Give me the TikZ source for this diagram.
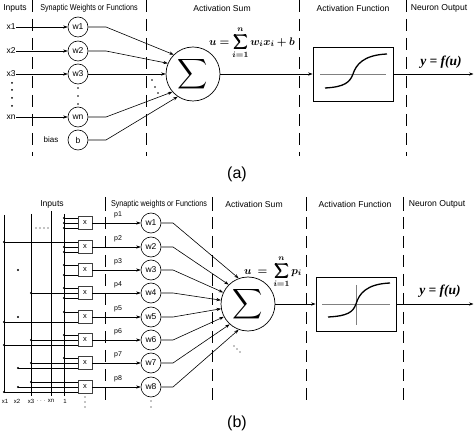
\documentclass[tikz,border=0pt]{standalone}
\usepackage[no-math]{fontspec}
\setmainfont{Liberation Sans}
\newfontfamily\tms{Liberation Serif}
\usepackage{bm}
\usetikzlibrary{arrows.meta,calc}
\begin{document}
\begin{tikzpicture}[x=1pt,y=-1pt,
  hdr/.style={font=\fontsize{8.6}{9}\selectfont, inner sep=0pt},
  lbl/.style={font=\fontsize{8.5}{9}\selectfont, inner sep=0.5pt},
  plbl/.style={font=\fontsize{7}{8}\selectfont, inner sep=0pt},
  tinylbl/.style={font=\fontsize{6}{7}\selectfont, inner sep=0pt},
  wnode/.style={circle, draw, line width=0.6pt, minimum size=20pt, inner sep=0pt, font=\fontsize{8.5}{9}\selectfont},
  signode/.style={circle, draw, line width=0.7pt, minimum size=54pt, inner sep=0pt},
  mulbox/.style={draw=black!75, line width=0.7pt, minimum width=14pt, minimum height=13pt, inner sep=0pt, font=\fontsize{7.5}{8}\selectfont, fill=white},
  actbox/.style={draw, line width=0.8pt, minimum width=80pt, minimum height=54pt, inner sep=0pt},
  sepline/.style={line width=0.7pt, dash pattern=on 12pt off 7pt},
  sepsolid/.style={line width=0.7pt},
  arr/.style={line width=0.6pt, -{Stealth[length=4.5pt,width=3.2pt]}},
  ln/.style={line width=0.6pt},
  sigcurve/.style={line width=1.3pt},
  guideline/.style={line width=0.6pt, black!50},
  outlbl/.style={font=\fontsize{13.5}{14}\selectfont\tms\bfseries\itshape, inner sep=0pt},
  formula/.style={font=\fontsize{11}{12}\selectfont, inner sep=0pt},
  captionlbl/.style={font=\fontsize{16}{17}\selectfont, inner sep=0pt}
]
\useasboundingbox (0,0) rectangle (474,438);

% ================= (a) =================
\foreach \sx in {32,146,299,406}{\draw[sepline] (\sx,0) -- (\sx,156);}
\node[hdr] (ha1) at (15,8) {Inputs};
\node[hdr] (ha2) at (89,8) {\scalebox{0.84}[1]{Synaptic Weights or Functions}};
\node[hdr] (ha3) at (222,8) {Activation Sum};
\node[hdr] (ha4) at (353,8) {Activation Function};
\node[hdr] (ha5) at (439,8) {Neuron Output};

\foreach \n/\y/\t in {1/27/x1,2/51/x2,3/74/x3,4/117/xn} \node[lbl] (ax\n) at (11,\y) {\t};
\foreach \n/\y/\t in {1/27/w1,2/51/w2,3/74/w3,4/117/wn,5/140/b} \node[wnode] (aw\n) at (78,\y) {\t};
\node[lbl, font=\fontsize{8}{9}\selectfont] (abias) at (51,140) {bias};
\foreach \n in {1,...,4} \draw[arr] (ax\n) -- (aw\n);
\foreach \y in {83,90,98,106} \fill (12,\y) circle (1);
\foreach \y in {88,96,104} \fill (78,\y) circle (0.9);

\node[signode] (asig) at (193,74) {\scalebox{2.1}{$\displaystyle\sum$}};
\foreach \n/\ky/\ang in {1/27/135,2/51/157,4/117/221,5/140/236}{
  \coordinate (ak\n) at (106,\ky);
  \draw[arr] (aw\n) -- (ak\n) -- (asig.\ang);
}
\draw[arr] (aw3) -- (asig);
\foreach \p in {(152,80),(155,87),(158,93)} \fill \p circle (0.9);

\node[formula] (aform) at (252,43) {$\bm{u = \displaystyle\sum_{i=1}^{n} w_i x_i + b}$};

\node[actbox] (aact) at (353,74) {};
\draw[arr] (asig) -- (aact);
\draw[guideline] ($(aact.center)+(-33,0)$) -- ($(aact.center)+(33,0)$);
\draw[sigcurve, shift={(aact.center)}] (-28,14) .. controls (-8,13) and (-3,8) .. (0,0) .. controls (3,-9) and (10,-19) .. (34,-20);
\coordinate (aout) at (473.5,74);
\draw[arr] (aact) -- (aout);
\node[outlbl] (ay) at (441,62) {y = f(u)};

\node[captionlbl] (capa) at (237,174) {(a)};

% ================= (b) =================
\foreach \sx in {105,212,306,403}{
  \draw[sepsolid] (\sx,197) -- (\sx,211);
  \draw[sepline] (\sx,217) -- (\sx,400);
}
\node[hdr] (hb1) at (52,204) {Inputs};
\node[hdr] (hb2) at (159,204) {\scalebox{0.84}[1]{Synaptic weights or Functions}};
\node[hdr] (hb3) at (254,204) {Activation Sum};
\node[hdr] (hb4) at (355,204) {Activation Function};
\node[hdr] (hb5) at (437,204) {Neuron Output};

% input buses
\draw[ln] (4,215) -- (4,393);
\draw[ln] (31,214) -- (31,396);
\draw[line width=0.9pt] (51,211) -- (51,396);
\draw[ln] (64,214) -- (64,396);
\foreach \x in {36,40,44,48} \fill (\x,228) circle (0.6);
\node[tinylbl] (lx1) at (5,401) {x1};
\node[tinylbl] (lx2) at (17,401) {x2};
\node[tinylbl] (lx3) at (31,401) {x3};
\node[tinylbl] (ldots) at (41,401) {$\cdots$};
\node[tinylbl] (lxn) at (51,401) {xn};
\node[tinylbl] (lone) at (65,401) {1};

% multiplier boxes and weights
\foreach \i/\y in {1/223,2/247,3/270,4/293,5/317,6/340,7/363,8/387}{
  \node[mulbox] (m\i) at (85,\y) {x};
  \node[wnode] (bw\i) at (151,\y) {w\i};
  \node[plbl] (p\i) at (118,\y-8) {p\i};
}
\foreach \b/\xs/\yy in {1/64/218,1/64/223,1/64/228,2/4/242,2/64/247,2/64/252,3/64/265,3/64/275,4/64/288,4/31/293,4/64/298,5/64/312,5/4/322,6/64/335,6/31/340,6/4/345,7/64/358,7/31/363,7/18/368,8/31/382,8/18/387,8/4/392}{
  \coordinate (src) at (\xs,\yy);
  \fill (src) circle (1.1);
  \draw[ln] (src) -- (src -| m\b.west);
}
\foreach \yy in {270,317} \fill (18,\yy) circle (1.1);
\foreach \i in {1,...,8} \draw[arr] (m\i) -- (bw\i);
\foreach \y in {397,402,407} \fill (85,\y) circle (0.7);
\foreach \y in {401,407} \fill (151,\y) circle (0.7);

\node[signode] (bsig) at (248,304) {\scalebox{2.1}{$\displaystyle\sum$}};
\foreach \i/\y/\ang in {1/223/110,2/247/135,3/270/155,4/293/172,5/317/190,6/340/208,7/363/228,8/387/250}{
  \coordinate (bk\i) at (173,\y);
  \draw[arr] (bw\i) -- (bk\i) -- (bsig.\ang);
}
\foreach \p in {(234,346),(237,349),(240,352)} \fill \p circle (0.7);

\node[formula] (bform) at (273,272) {$\bm{u\;=\;\displaystyle\sum_{i=1}^{n} p_i}$};

\node[actbox] (bact) at (356,304) {};
\draw[arr] (bsig) -- (bact);
\draw[guideline] ($(bact.center)+(-34,0)$) -- ($(bact.center)+(34,0)$);
\draw[guideline] ($(bact.center)+(0,-19)$) -- ($(bact.center)+(0,21)$);
\draw[sigcurve, shift={(bact.center)}] (-28,13) .. controls (-8,12) and (-3,8) .. (0,0) .. controls (3,-10) and (10,-20) .. (34,-21);
\coordinate (bout) at (473.5,304);
\draw[arr] (bact) -- (bout);
\node[outlbl] (by) at (440,291) {y = f(u)};

\node[captionlbl] (capb) at (237,423) {(b)};
\end{tikzpicture}
\end{document}
